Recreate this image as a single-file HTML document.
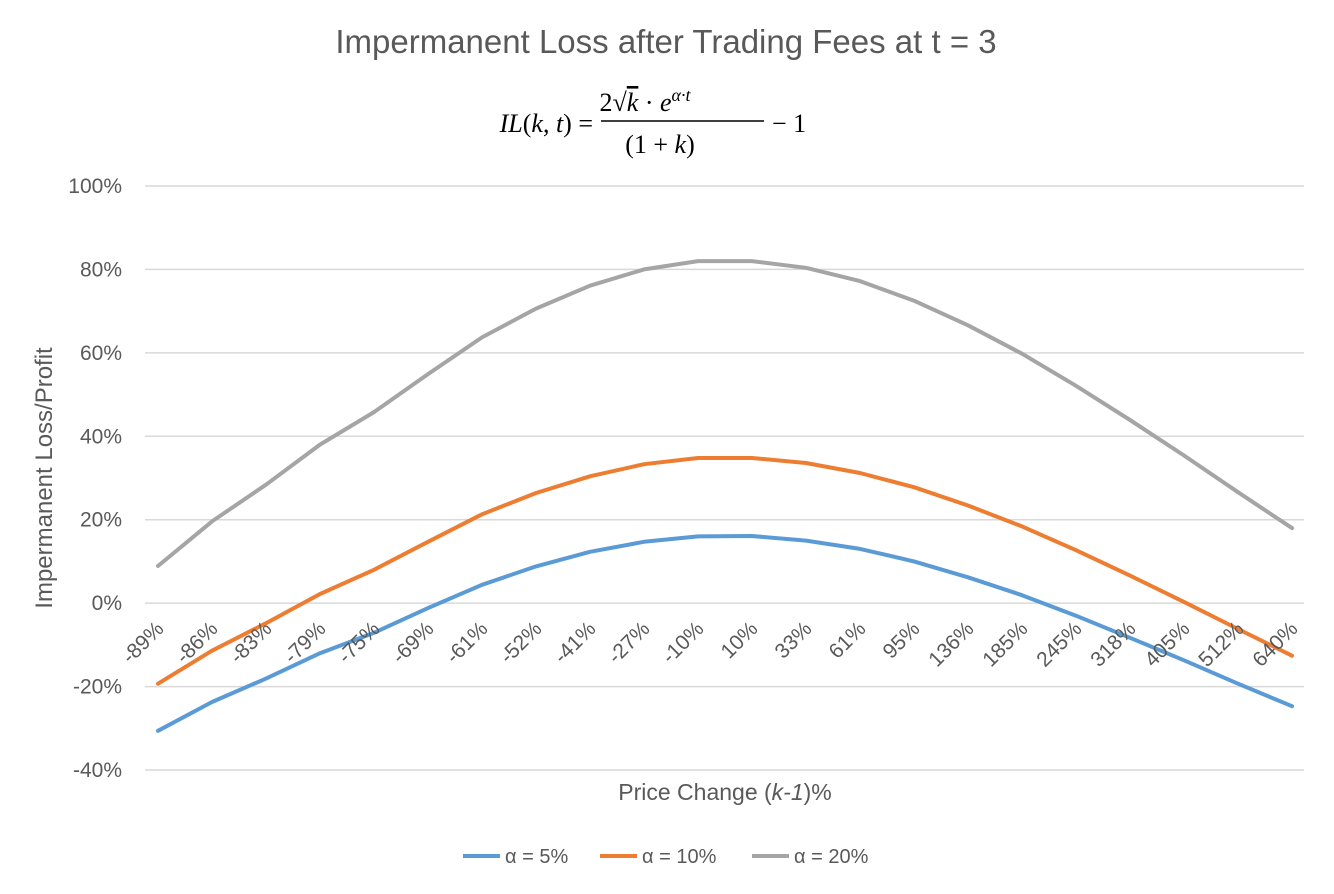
<!DOCTYPE html>
<html><head><meta charset="utf-8">
<style>
body{margin:0;background:#fff;}
svg text{font-family:"Liberation Sans",sans-serif;fill:#595959;}
</style></head>
<body>
<svg id="chart" width="1334" height="889" viewBox="0 0 1334 889" xmlns="http://www.w3.org/2000/svg">
<rect width="1334" height="889" fill="#fff"/>
<text x="666" y="53" text-anchor="middle" font-size="33">Impermanent Loss after Trading Fees at t = 3</text>
<g>
<text x="593" y="132" text-anchor="end" font-size="26" style="font-family:'Liberation Serif',serif;fill:#000"><tspan font-style="italic">IL</tspan>(<tspan font-style="italic">k</tspan>, <tspan font-style="italic">t</tspan>) =</text>
<text x="645" y="111" text-anchor="middle" font-size="26" style="font-family:'Liberation Serif',serif;fill:#000">2√<tspan font-style="italic" text-decoration="overline">k</tspan> · <tspan font-style="italic">e</tspan><tspan font-style="italic" font-size="18" dy="-10">α·t</tspan></text>
<line x1="601" y1="121" x2="764" y2="121" stroke="#000" stroke-width="1.5"/>
<text x="660" y="153" text-anchor="middle" font-size="26" style="font-family:'Liberation Serif',serif;fill:#000">(1 + <tspan font-style="italic">k</tspan>)</text>
<text x="772" y="132" font-size="26" style="font-family:'Liberation Serif',serif;fill:#000">− 1</text>
</g>
<g id="grid"></g>
<g id="ylabels"></g>
<g id="series"></g>
<g id="xlabels"></g>
<text transform="translate(52,478) rotate(-90)" text-anchor="middle" font-size="24">Impermanent Loss/Profit</text>
<text x="725" y="800" text-anchor="middle" font-size="23">Price Change (<tspan font-style="italic">k-1</tspan>)%</text>
<g id="legend"></g>
</svg>
<script>
const categories=["-89%","-86%","-83%","-79%","-75%","-69%","-61%","-52%","-41%","-27%","-10%","10%","33%","61%","95%","136%","185%","245%","318%","405%","512%","640%"];
const alpha5=[-30.6,-23.7,-18.1,-12.0,-7.1,-1.2,4.4,8.8,12.3,14.7,16.0,16.1,15.0,13.0,10.0,6.2,1.9,-3.0,-8.3,-13.7,-19.3,-24.7];
const alpha10=[-19.3,-11.4,-4.8,2.2,8.0,14.7,21.3,26.4,30.4,33.3,34.8,34.8,33.6,31.2,27.8,23.4,18.4,12.7,6.6,0.3,-6.2,-12.6];
const alpha20=[8.9,19.6,28.4,38.0,45.8,54.9,63.7,70.6,76.1,80.0,82.0,82.0,80.4,77.2,72.5,66.6,59.8,52.1,43.9,35.4,26.6,18.0];
const yTicks=[-40,-20,0,20,40,60,80,100];
const seriesNames=["α = 5%","α = 10%","α = 20%"];
const seriesColors=["#5b9bd5","#ed7d31","#a5a5a5"];

const NS="http://www.w3.org/2000/svg";
const x0=158,x1=1292,gx0=145,gx1=1304;
const yTop=186,yBot=770,vMin=-40,vMax=100;
function xs(i){return x0+i*(x1-x0)/(categories.length-1);}
function ys(v){return yBot-(v-vMin)*(yBot-yTop)/(vMax-vMin);}
function mk(tag,attrs,parent){const e=document.createElementNS(NS,tag);for(const k in attrs)e.setAttribute(k,attrs[k]);parent.appendChild(e);return e;}
const grid=document.getElementById('grid'),yl=document.getElementById('ylabels');
yTicks.forEach(t=>{
  const l=mk('line',{x1:gx0,x2:gx1,y1:ys(t),y2:ys(t),stroke:'#d9d9d9','stroke-width':1.5},grid);
  
  
  const tx=mk('text',{x:122,y:ys(t)+7,'text-anchor':'end','font-size':21},yl);
  tx.textContent=t+'%';
  
  
});
const sg=document.getElementById('series');
[alpha5,alpha10,alpha20].forEach((arr,si)=>{
  const d=arr.map((v,i)=>(i?'L':'M')+xs(i).toFixed(1)+' '+ys(v).toFixed(1)).join(' ');
  const p=mk('path',{d:d,fill:'none',stroke:seriesColors[si],'stroke-width':4,'stroke-linejoin':'round','stroke-linecap':'round'},sg);
  
  
});
const xl=document.getElementById('xlabels');
categories.forEach((c,i)=>{
  const tx=mk('text',{transform:`translate(${xs(i)+7},${630}) rotate(-45)`,'text-anchor':'end','font-size':21},xl);
  tx.textContent=c;
  
  
});
const lg=document.getElementById('legend');
const lx=[463,600,752];
seriesNames.forEach((n,i)=>{
  const g=mk('g',{},lg);
  
  
  mk('line',{x1:lx[i],x2:lx[i]+37,y1:856,y2:856,stroke:seriesColors[i],'stroke-width':4},g);
  const t=mk('text',{x:lx[i]+42,y:863,'font-size':20},g);
  t.textContent=n;
});
</script>
</body></html>
